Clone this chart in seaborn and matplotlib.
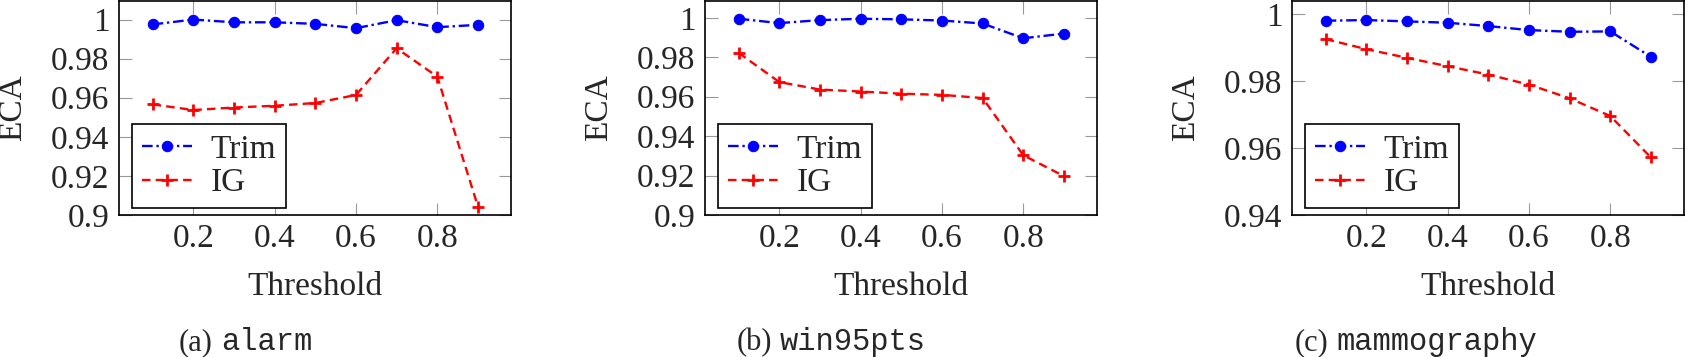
import pandas as pd
import seaborn as sns
import matplotlib.pyplot as plt

# thresholds on the x axis
thresholds = [0.1, 0.2, 0.3, 0.4, 0.5, 0.6, 0.7, 0.8, 0.9]

# ECA values
alarm_trim = [0.9975, 1.0, 0.9986, 0.9986, 0.9978, 0.9956, 0.9997, 0.9961, 0.9973]
alarm_ig = [0.9566, 0.9537, 0.9550, 0.9559, 0.9573, 0.9614, 0.9853, 0.9708, 0.9043]
win95pts_trim = [0.9995, 0.9973, 0.9988, 0.9995, 0.9992, 0.9986, 0.9971, 0.9896, 0.9920]
win95pts_ig = [0.9822, 0.9674, 0.9636, 0.9626, 0.9615, 0.9609, 0.9593, 0.9303, 0.9197]
mammo_trim = [0.9981, 0.9983, 0.9979, 0.9975, 0.9965, 0.9953, 0.9948, 0.9949, 0.9873]
mammo_ig = [0.9926, 0.9896, 0.9870, 0.9845, 0.9820, 0.9790, 0.9749, 0.9696, 0.9572]

datasets = ["alarm", "win95pts", "mammography"]
letters = ["(a)", "(b)", "(c)"]
xticks = [0.2, 0.4, 0.6, 0.8]
yticks_ab = [0.9, 0.92, 0.94, 0.96, 0.98, 1.0]
yticks_c = [0.94, 0.96, 0.98, 1.0]

sns.set_style("ticks")
plt.rcParams["font.family"] = ["Liberation Serif", "DejaVu Serif"]
plt.rcParams["font.size"] = 24

W, H = 1688, 357
fig = plt.figure(figsize=(W / 100, H / 100), dpi=100)

panels = [
    (alarm_trim, alarm_ig, yticks_ab, (0.9, 1.0095), 119.3, (212, 221)),
    (win95pts_trim, win95pts_ig, yticks_ab, (0.9, 1.0085), 705.3, (772, 780)),
    (mammo_trim, mammo_ig, yticks_c, (0.94, 1.004), 1292.3, (1328, 1336)),
]

for i, (trim, ig, yticks, ylim, left, cap) in enumerate(panels):
    ax = fig.add_axes([left / W, 142 / H, 392 / W, 214 / H])
    df = pd.DataFrame({"Threshold": thresholds, "Trim": trim, "IG": ig})

    sns.lineplot(data=df, x="Threshold", y="Trim", ax=ax, color="#0000ff",
                 linewidth=1.7, linestyle=(0, (4.5, 1.6, 1.0, 1.6)),
                 marker="o", markersize=7.5, markeredgecolor="#0000ff",
                 markerfacecolor="#0000ff", label="Trim")
    sns.lineplot(data=df, x="Threshold", y="IG", ax=ax, color="#ff0000",
                 linewidth=1.7, linestyle=(0, (3.6, 2.2)),
                 marker="+", markersize=8.5, markeredgewidth=2,
                 markeredgecolor="#ff0000", label="IG")

    ax.set_xlim(0.018, 0.982)
    ax.set_ylim(*ylim)
    ax.set_xticks(xticks)
    ax.set_xticklabels([f"{round(v, 2):g}" for v in xticks])
    ax.set_yticks(yticks)
    ax.set_yticklabels([f"{round(v, 2):g}" for v in yticks])
    ax.tick_params(axis="both", direction="in", length=9, width=0.8,
                   color="0.6", top=True, right=True, labelsize=24)
    ax.tick_params(axis="x", pad=6)
    ax.tick_params(axis="y", pad=7)
    for sp in ax.spines.values():
        sp.set_visible(True)
        sp.set_color("black")
        sp.set_linewidth(1.2)

    ax.set_xlabel("Threshold", fontsize=24)
    ax.set_ylabel("ECA", fontsize=24)
    ax.xaxis.set_label_coords(0.5, -0.262)
    ax.yaxis.set_label_coords(-0.232, 0.5)

    leg = ax.legend(loc="lower left", bbox_to_anchor=(0.0324, 0.031),
                    borderaxespad=0, frameon=True, fancybox=False,
                    edgecolor="black", framealpha=1, fontsize=24,
                    handlelength=1.5, handletextpad=0.55, borderpad=0.3,
                    labelspacing=0.1)
    leg.get_frame().set_linewidth(1.2)

    fig.text(cap[0] / W, 7 / H, letters[i], ha="right", va="baseline",
             fontsize=22)
    fig.text(cap[1] / W, 7 / H, datasets[i], ha="left", va="baseline",
             fontsize=22, family=["Liberation Mono"])

fig.savefig("out.png", dpi=100)
